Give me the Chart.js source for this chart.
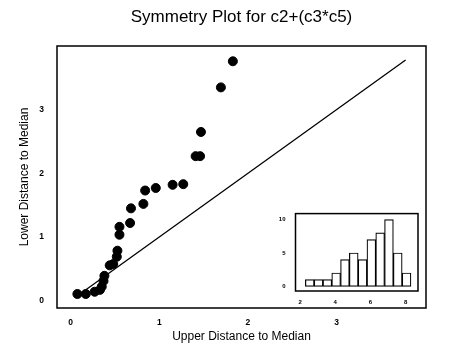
<!DOCTYPE html>
<html>
<head>
<meta charset="utf-8">
<script src="https://cdn.jsdelivr.net/npm/chart.js@4"></script>
<style>
body{margin:0;background:#fff;}
#wrap{position:relative;width:474px;height:353px;}
#main{position:absolute;left:0;top:0;}
#inset{position:absolute;left:260px;top:205px;}
</style>
</head>
<body>
<div id="wrap">
<canvas id="main" width="474" height="353"></canvas>
<canvas id="inset" width="170" height="110"></canvas>
</div>
<script>
// symmetry plot: upper vs lower distance to median
const upperDist=[0.075,0.17,0.27,0.33,0.35,0.37,0.38,0.44,0.48,0.52,0.527,0.55,0.55,0.67,0.68,0.82,0.84,0.96,1.15,1.27,1.41,1.46,1.47,1.695,1.83];
const lowerDist=[0.105,0.105,0.14,0.17,0.22,0.31,0.39,0.555,0.576,0.69,0.785,1.036,1.16,1.22,1.45,1.52,1.73,1.77,1.82,1.83,2.27,2.27,2.65,3.35,3.76];
const refLine=[0.1,3.78];
const mainTicks=[0,1,2,3];

// histogram inset
const binCenters=[2.55,3.05,3.55,4.05,4.55,5.05,5.55,6.05,6.55,7.05,7.55,8.05];
const binCounts=[1,1,1,2,4,5,4,7,8,10,5,2];
const insetXTicks=[2,4,6,8];
const insetYTicks=[0,5,10];

const frame={
  id:'frame',
  afterDatasetsDraw(chart,args,opts){
    const a=chart.chartArea,c=chart.ctx;
    c.save();
    c.strokeStyle='#000';
    c.lineWidth=opts.width||1.5;
    c.strokeRect(a.left,a.top,a.right-a.left,a.bottom-a.top);
    c.restore();
  }
};

const tickFont={family:'Liberation Sans',size:8.5,weight:'bold'};

new Chart(document.getElementById('main'),{
  type:'scatter',
  data:{
    datasets:[{
      data:upperDist.map((u,i)=>({x:u,y:lowerDist[i]})),
      backgroundColor:'#000',
      borderColor:'#000',
      pointRadius:4.5,
      pointHoverRadius:4.5
    },{
      data:refLine.map(v=>({x:v,y:v})),
      showLine:true,
      borderColor:'#000',
      borderWidth:1.3,
      pointRadius:0
    }]
  },
  options:{
    responsive:false,
    animation:false,
    events:[],
    layout:{padding:{left:0,right:48,top:0,bottom:0}},
    plugins:{
      legend:{display:false},
      tooltip:{enabled:false},
      title:{
        display:true,
        fullSize:false,
        text:'Symmetry Plot for c2+(c3*c5)',
        color:'#000',
        font:{family:'Liberation Sans',size:17,weight:'normal'},
        padding:{top:7,bottom:18.6}
      },
      frame:{width:1.5}
    },
    scales:{
      x:{
        type:'linear',
        min:-0.155,max:4.01,
        afterBuildTicks:s=>{s.ticks=mainTicks.map(v=>({value:v}));},
        afterFit:s=>{s.height=45;},
        grid:{display:false,drawOnChartArea:false,drawTicks:true,tickLength:6,color:'#000',tickWidth:1.5},
        border:{display:false},
        ticks:{color:'#000',font:tickFont,padding:4,maxRotation:0},
        title:{display:true,text:'Upper Distance to Median',color:'#000',font:{family:'Liberation Sans',size:12},padding:{top:0,bottom:9}}
      },
      y:{
        type:'linear',
        min:-0.115,max:4.0,
        afterBuildTicks:s=>{s.ticks=mainTicks.map(v=>({value:v}));},
        afterFit:s=>{s.width=57;},
        grid:{display:false,drawOnChartArea:false,drawTicks:true,tickLength:6,color:'#000',tickWidth:1.5},
        border:{display:false},
        ticks:{color:'#000',font:tickFont,padding:7},
        title:{display:true,text:'Lower Distance to Median',color:'#000',font:{family:'Liberation Sans',size:12},padding:{top:17,bottom:0}}
      }
    }
  },
  plugins:[frame]
});

const smallFont={family:'Liberation Sans',size:6,weight:'bold'};

new Chart(document.getElementById('inset'),{
  type:'bar',
  data:{
    datasets:[{
      data:binCenters.map((c,i)=>({x:c,y:binCounts[i]})),
      backgroundColor:'#fff',
      borderColor:'#000',
      borderWidth:1.2,
      borderSkipped:false,
      barPercentage:1,
      categoryPercentage:1
    }]
  },
  options:{
    responsive:false,
    animation:false,
    events:[],
    layout:{padding:{left:0,right:12,top:7,bottom:0}},
    plugins:{legend:{display:false},tooltip:{enabled:false},frame:{width:1.5}},
    scales:{
      x:{
        type:'linear',
        min:1.74,max:8.7,
        offset:false,
        afterBuildTicks:s=>{s.ticks=insetXTicks.map(v=>({value:v}));},
        afterFit:s=>{s.height=24;},
        grid:{display:false,drawOnChartArea:false,drawTicks:true,tickLength:5,color:'#000',tickWidth:1.2},
        border:{display:false},
        ticks:{color:'#000',font:smallFont,padding:3,maxRotation:0}
      },
      y:{
        type:'linear',
        min:-0.7,max:10.9,
        afterBuildTicks:s=>{s.ticks=insetYTicks.map(v=>({value:v}));},
        afterFit:s=>{s.width=35.5;},
        grid:{display:false,drawOnChartArea:false,drawTicks:true,tickLength:5,color:'#000',tickWidth:1.2},
        border:{display:false},
        ticks:{color:'#000',font:smallFont,padding:5}
      }
    }
  },
  plugins:[frame]
});
</script>
</body>
</html>
